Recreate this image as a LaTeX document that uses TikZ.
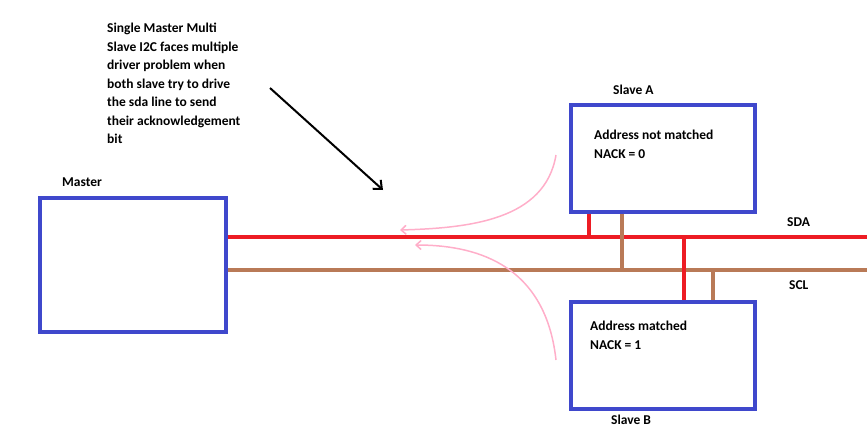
\documentclass[tikz,border=0pt]{standalone}
\usepackage{fontspec}
\setmainfont{Carlito}
\usetikzlibrary{arrows.meta}
\definecolor{bx}{RGB}{63,72,204}
\definecolor{sda}{RGB}{237,28,36}
\definecolor{scl}{RGB}{185,122,87}
\definecolor{pk}{RGB}{255,174,201}
\begin{document}
\begin{tikzpicture}[x=1pt,y=-1pt,
  box/.style={draw=bx,line width=3.5pt},
  lbl/.style={font=\bfseries\fontsize{13.5}{18.5}\selectfont,inner sep=0pt,anchor=west},
  wire/.style={line width=3.5pt}]
\useasboundingbox (0,0) rectangle (867,437);
\node[box,minimum width=186pt,minimum height=134pt,anchor=north west] (M) at (38,196) {};
\node[box,minimum width=184pt,minimum height=107pt,anchor=north west] (A) at (569,103) {};
\node[box,minimum width=184pt,minimum height=107pt,anchor=north west] (B) at (569,300) {};
\coordinate (sdaE) at (867,237); \coordinate (sclE) at (867,270);
\draw[wire,sda] (M.east|-sdaE) -- (sdaE);
\draw[wire,scl] (M.east|-sclE) -- (sclE);
\coordinate (aR) at (589,237); \coordinate (aC) at (622,270);
\coordinate (bR) at (684,237); \coordinate (bC) at (713,270);
\draw[wire,sda] (A.south-|aR) -- (aR);
\draw[wire,scl] (A.south-|aC) -- (aC);
\draw[wire,sda] (bR) -- (B.north-|bR);
\draw[wire,scl] (bC) -- (B.north-|bC);
\node[lbl] (ml) at (62,182) {Master};
\node[lbl] (al) at (613,90) {Slave A};
\node[lbl] (bl) at (611,420) {Slave B};
\node[lbl] (sdal) at (787,222) {SDA};
\node[lbl] (scll) at (789,285) {SCL};
\node[lbl,align=left,anchor=north west] (at) at (594,130) {Address not matched\\NACK = 0};
\node[lbl,align=left,anchor=north west] (bt) at (590,321) {Address matched\\NACK = 1};
\node[lbl,align=left,anchor=north west] (note) at (107,23)
 {Single Master Multi\\Slave I2C faces multiple\\driver problem when\\both slave try to drive\\the sda line to send\\their acknowledgement\\bit};
\coordinate (n1) at (270,88); \coordinate (n2) at (383,190);
\draw[line width=2pt,-{Straight Barb[length=7pt,width=12pt]}] (n1) -- (n2);
\coordinate (p1) at (556,155); \coordinate (p2) at (400,230);
\coordinate (p3) at (556,360); \coordinate (p4) at (415,245);
\draw[pk,line width=1.5pt,-{Straight Barb[length=5pt,width=9pt]}] (p1) .. controls (545,220) and (470,228) .. (p2);
\draw[pk,line width=1.5pt,-{Straight Barb[length=5pt,width=9pt]}] (p3) .. controls (545,260) and (470,245) .. (p4);
\end{tikzpicture}
\end{document}
